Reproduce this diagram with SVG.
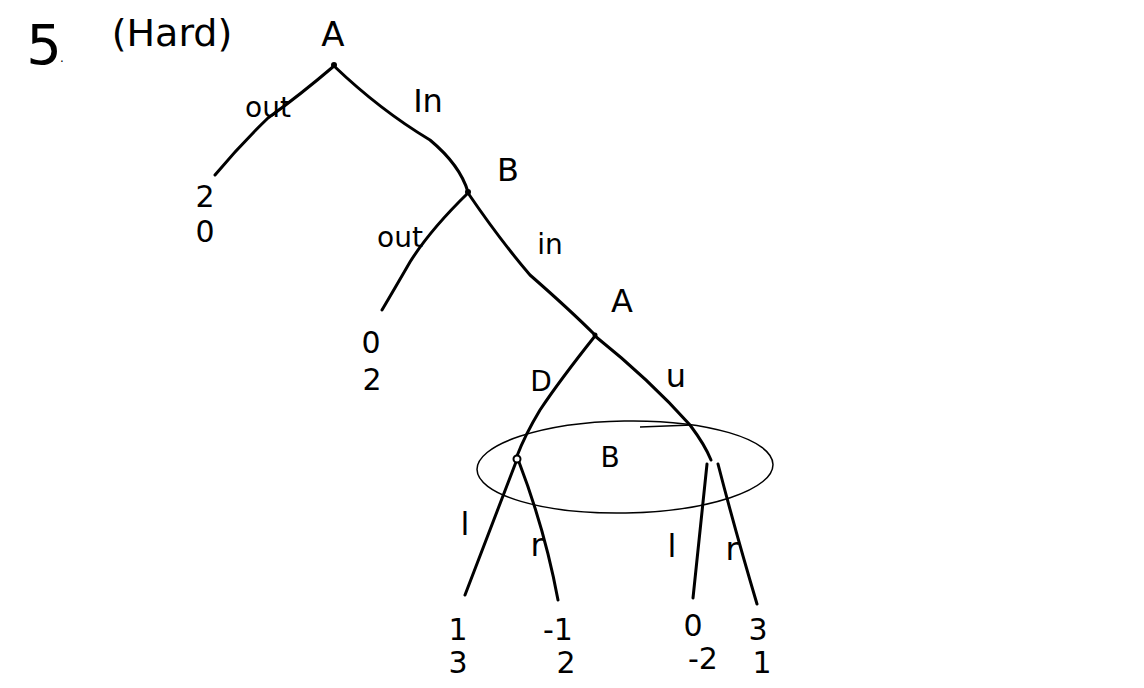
<svg xmlns="http://www.w3.org/2000/svg" width="1144" height="688" viewBox="0 0 1144 688">
<style>
.br{fill:none;stroke:#000;stroke-width:3;stroke-linecap:round}
.t{font-family:"DejaVu Sans","Liberation Sans",sans-serif;font-size:32px;fill:#000;text-anchor:middle}
.s{font-size:28px}
.p{font-family:"DejaVu Sans","Liberation Sans",sans-serif;font-size:30px;fill:#000;text-anchor:middle}
</style>
<rect width="1144" height="688" fill="#fff"/>
<g id="title"><text x="44" y="64" class="t" style="font-size:56px">5</text><text x="62" y="62" class="t" style="font-size:12px">.</text><text x="172" y="46" class="t" style="font-size:38px">(Hard)</text></g>
<g id="connectors">
<path class="br" d="M334,66 Q300,95 268,118 Q240,145 215,175"/>
<path class="br" d="M334,66 Q380,110 430,140 Q460,165 468,192"/>
<path class="br" d="M468,193 Q430,230 410,262 Q395,288 382,310"/>
<path class="br" d="M468,193 Q500,240 530,275 Q570,310 595,335"/>
<path class="br" d="M595,336 Q560,380 540,410 Q525,435 517,456"/>
<path class="br" d="M595,336 Q650,380 690,425 Q705,445 711,460"/>
<path class="br" d="M516,462 Q490,530 465,595"/>
<path class="br" d="M519,462 Q545,530 558,600"/>
<path class="br" d="M707,464 Q700,530 693,598"/>
<path class="br" d="M718,464 Q735,530 757,604"/>
</g>
<g id="root"><circle cx="334" cy="65" r="3"/><text x="333" y="46" class="t" style="font-size:34px">A</text></g>
<g id="lbl-out1"><text x="268" y="117" class="t s">out</text></g>
<g id="lbl-in1"><text x="428" y="112" class="t">In</text></g>
<g id="leaf1"><text x="205" y="207" class="p">2</text><text x="205" y="242" class="p">0</text></g>
<g id="nodeB"><circle cx="468" cy="192" r="3"/><text x="508" y="181" class="t">B</text></g>
<g id="lbl-out2"><text x="400" y="247" class="t s">out</text></g>
<g id="lbl-in2"><text x="550" y="254" class="t s">in</text></g>
<g id="leaf2"><text x="371" y="353" class="p">0</text><text x="372" y="390" class="p">2</text></g>
<g id="nodeA2"><circle cx="595" cy="335" r="2.5"/><text x="622" y="312" class="t">A</text></g>
<g id="lbl-D"><text x="541" y="391" class="t s">D</text></g>
<g id="lbl-u"><text x="676" y="387" class="t">u</text></g>
<g id="infoset"><ellipse cx="625" cy="467" rx="148" ry="46" fill="none" stroke="#000" stroke-width="1.5" transform="rotate(-1 625 467)"/><path d="M640,427 L692,425" fill="none" stroke="#000" stroke-width="1.5"/><circle cx="517" cy="459" r="3.5" fill="#fff" stroke="#000" stroke-width="2"/><text x="610" y="467" class="t s">B</text></g>
<g id="lbl-l1"><text x="465" y="535" class="t">l</text></g>
<g id="lbl-r1"><text x="537" y="556" class="t">r</text></g>
<g id="lbl-l2"><text x="672" y="557" class="t">l</text></g>
<g id="lbl-r2"><text x="732" y="560" class="t">r</text></g>
<g id="leaf3"><text x="458" y="640" class="p">1</text><text x="458" y="673" class="p">3</text></g>
<g id="leaf4"><text x="558" y="640" class="p">-1</text><text x="566" y="673" class="p">2</text></g>
<g id="leaf5"><text x="693" y="636" class="p">0</text><text x="703" y="669" class="p">-2</text></g>
<g id="leaf6"><text x="758" y="640" class="p">3</text><text x="762" y="673" class="p">1</text></g>
</svg>
